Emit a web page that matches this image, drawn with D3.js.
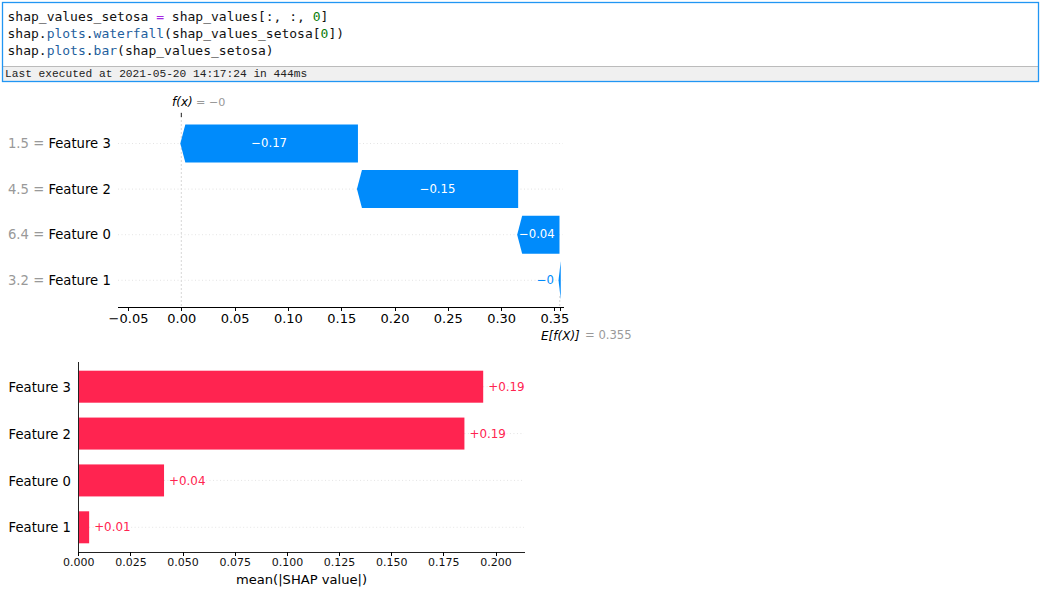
<!DOCTYPE html>
<html>
<head>
<meta charset="utf-8">
<script src="https://cdn.jsdelivr.net/npm/d3@7"></script>
<style>
  html, body { margin: 0; padding: 0; background: #fff; }
  svg { display: block; }
  text { font-family: "DejaVu Sans", sans-serif; }
  .code { font-family: "DejaVu Sans Mono", monospace; font-size: 13px; }
  .footer { font-family: "Liberation Mono", monospace; font-size: 11.2px; }
  .math { font-style: italic; }
  .tick line, .domain { shape-rendering: crispEdges; }
</style>
</head>
<body>
<svg id="chart" width="1040" height="606"></svg>
<script>
const codeLines = [
  [["shap_values_setosa ", "#111"], ["=", "#a626e4"], [" shap_values[:, :, ", "#111"], ["0", "#0a7d0a"], ["]", "#111"]],
  [["shap.", "#111"], ["plots", "#1f5f9e"], [".", "#111"], ["waterfall", "#1f5f9e"], ["(shap_values_setosa[", "#111"], ["0", "#0a7d0a"], ["])", "#111"]],
  [["shap.", "#111"], ["plots", "#1f5f9e"], [".", "#111"], ["bar", "#1f5f9e"], ["(shap_values_setosa)", "#111"]],
];
const footerText = "Last executed at 2021-05-20 14:17:24 in 444ms";

const features = ["Feature 3", "Feature 2", "Feature 0", "Feature 1"];
const featureValues = ["1.5", "4.5", "6.4", "3.2"];
const waterfallLeft = [0, 0.1657, 0.316, 0.3548];
const waterfallRight = [0.1657, 0.316, 0.3548, 0.355];
const waterfallLabels = ["\u22120.17", "\u22120.15", "\u22120.04", "\u22120"];
const waterfallTicks = [-0.05, 0, 0.05, 0.1, 0.15, 0.2, 0.25, 0.3, 0.35];
const fxValue = 0;
const baseValue = 0.355;

const meanValues = [0.1941, 0.1851, 0.0411, 0.0052];
const meanLabels = ["+0.19", "+0.19", "+0.04", "+0.01"];
const meanTicks = [0, 0.025, 0.05, 0.075, 0.1, 0.125, 0.15, 0.175, 0.2];

const blue = "#008bfb";
const red = "#ff2450";
const grey = "#999";

const svg = d3.select("#chart");

// notebook cell
const cell = svg.append("g");
cell.append("rect").attr("x", 2.5).attr("y", 2.5).attr("width", 1036).attr("height", 79)
  .attr("fill", "#fff");
cell.append("rect").attr("x", 3).attr("y", 67).attr("width", 1035).attr("height", 14)
  .attr("fill", "#f0f0f0");
cell.append("line").attr("x1", 3).attr("x2", 1038).attr("y1", 66.5).attr("y2", 66.5)
  .attr("stroke", "#bbb");
cell.append("rect").attr("x", 2.5).attr("y", 2.5).attr("width", 1036).attr("height", 79)
  .attr("fill", "none").attr("stroke", "#2196f3").attr("stroke-width", 1.3);
cell.append("g").selectAll("text").data(codeLines).join("text")
  .attr("class", "code")
  .attr("x", 7.5)
  .attr("y", (d, i) => 21 + i * 17)
  .style("white-space", "pre")
  .selectAll("tspan").data((d) => d).join("tspan")
  .attr("fill", (d) => d[1])
  .text((d) => d[0]);
cell.append("text").attr("class", "footer").attr("x", 5).attr("y", 77)
  .attr("fill", "#222").text(footerText);

// waterfall
const wfX = d3.scaleLinear().domain([-0.0594, 0.359]).range([118, 564]);
const wfY = d3.scalePoint().domain(features).range([143.5, 280.3]);
const wfBar = 38;
const wfHead = 5;
const wf = svg.append("g");

wf.append("line").attr("x1", wfX(fxValue)).attr("x2", wfX(fxValue))
  .attr("y1", 112).attr("y2", 306)
  .attr("stroke", "#ccc").attr("stroke-width", 0.8).attr("stroke-dasharray", "2,2");
wf.append("line").attr("x1", wfX(fxValue)).attr("x2", wfX(fxValue))
  .attr("y1", 113).attr("y2", 117).attr("stroke", "#222");
wf.append("line").attr("x1", wfX(baseValue)).attr("x2", wfX(baseValue))
  .attr("y1", 296).attr("y2", 306)
  .attr("stroke", "#ccc").attr("stroke-width", 0.8).attr("stroke-dasharray", "2,2");

wf.append("g").selectAll("line").data(features).join("line")
  .attr("x1", 118).attr("x2", 563)
  .attr("y1", (d) => wfY(d)).attr("y2", (d) => wfY(d))
  .attr("stroke", "#ddd").attr("stroke-width", 0.8).attr("stroke-dasharray", "1,2.5");

wf.append("g").selectAll("path").data(features).join("path")
  .attr("fill", blue)
  .attr("d", (d, i) => {
    const x0 = wfX(waterfallLeft[i]);
    const x1 = wfX(waterfallRight[i]);
    const y = wfY(d);
    const head = Math.min(wfHead, x1 - x0 + 2);
    return d3.line()([
      [x0 - 1, y],
      [x0 - 1 + head, y - wfBar / 2],
      [x0 - 1 + head > x1 ? x0 - 1 + head : x1, y - wfBar / 2],
      [x0 - 1 + head > x1 ? x0 - 1 + head : x1, y + wfBar / 2],
      [x0 - 1 + head, y + wfBar / 2],
    ]) + "Z";
  });

wf.append("g").selectAll("text").data(features).join("text")
  .attr("font-size", 11.7)
  .attr("dy", "0.35em")
  .attr("y", (d) => wfY(d) - 0.5)
  .attr("x", (d, i) => i < 3 ? wfX((waterfallLeft[i] + waterfallRight[i]) / 2) - (i == 2 ? 2 : 0.5) : wfX(waterfallLeft[i]) - 5.5)
  .attr("text-anchor", (d, i) => i < 3 ? "middle" : "end")
  .attr("fill", (d, i) => i < 3 ? "#fff" : blue)
  .text((d, i) => waterfallLabels[i]);

const wfLabel = wf.append("g").selectAll("text").data(features).join("text")
  .attr("font-size", 13.2)
  .attr("x", 110.8)
  .attr("y", (d) => wfY(d))
  .attr("dy", "0.35em")
  .attr("text-anchor", "end");
wfLabel.append("tspan").attr("fill", grey).text((d, i) => featureValues[i] + " = ");
wfLabel.append("tspan").attr("fill", "#000").text((d) => d);

const wfAxis = wf.append("g").attr("transform", "translate(0,306.5)")
  .call(d3.axisBottom(wfX).tickValues(waterfallTicks.concat([baseValue])).tickSize(4).tickPadding(3)
    .tickFormat((d) => waterfallTicks.includes(d) ? d3.format(".2f")(d).replace("-", "\u2212") : ""));
wfAxis.select(".domain").attr("stroke", "#000").attr("d", "M118,0.5H564");
wfAxis.selectAll("text").attr("font-size", 13).attr("font-family", "DejaVu Sans").attr("fill", "#000");

wf.append("text").attr("x", 172).attr("y", 106).attr("font-size", 12).attr("class", "math")
  .attr("fill", "#000").text("f(x)");
wf.append("text").attr("x", 196).attr("y", 106).attr("font-size", 11.2).attr("fill", grey)
  .text("= \u22120");
wf.append("text").attr("x", 541).attr("y", 340).attr("font-size", 12).attr("class", "math")
  .attr("fill", "#000").text("E[f(X)]");
wf.append("text").attr("x", 585).attr("y", 339).attr("font-size", 11.6).attr("fill", grey)
  .text("= 0.355");

// mean bar
const barX = d3.scaleLinear().domain([0, 0.2139]).range([78.3, 524.5]);
const barY = d3.scalePoint().domain(features).range([386.7, 527.3]);
const barH = 32;
const bar = svg.append("g");

bar.append("g").selectAll("line").data(features).join("line")
  .attr("x1", (d, i) => barX(meanValues[i])).attr("x2", 524)
  .attr("y1", (d) => barY(d)).attr("y2", (d) => barY(d))
  .attr("stroke", "#ddd").attr("stroke-width", 0.8).attr("stroke-dasharray", "1,2.5");

bar.append("g").selectAll("rect").data(features).join("rect")
  .attr("fill", red)
  .attr("x", barX(0))
  .attr("y", (d) => barY(d) - barH / 2)
  .attr("width", (d, i) => barX(meanValues[i]) - barX(0))
  .attr("height", barH);

bar.append("g").selectAll("text").data(features).join("text")
  .attr("font-size", 11.9)
  .attr("x", (d, i) => barX(meanValues[i]) + 5)
  .attr("y", (d) => barY(d))
  .attr("dy", "0.35em")
  .attr("fill", red)
  .attr("stroke", "#fff").attr("stroke-width", 3).attr("paint-order", "stroke")
  .text((d, i) => meanLabels[i]);

bar.append("g").selectAll("text").data(features).join("text")
  .attr("font-size", 13.2)
  .attr("x", 71)
  .attr("y", (d) => barY(d) + 0.5)
  .attr("dy", "0.35em")
  .attr("text-anchor", "end")
  .attr("fill", "#000")
  .text((d) => d);

const barAxis = bar.append("g").attr("transform", "translate(0,552)")
  .call(d3.axisBottom(barX).tickValues(meanTicks).tickSize(3.5).tickPadding(3)
    .tickFormat(d3.format(".3f")));
barAxis.select(".domain").attr("stroke", "#222").attr("d", "M78.3,0.5H524.5");
barAxis.selectAll("text").attr("font-size", 11).attr("font-family", "DejaVu Sans").attr("fill", "#111");

bar.append("line").attr("x1", 78.5).attr("x2", 78.5).attr("y1", 362).attr("y2", 552)
  .attr("stroke", "#222").style("shape-rendering", "crispEdges");

bar.append("text").attr("x", 301.5).attr("y", 584).attr("text-anchor", "middle")
  .attr("font-size", 13.1).attr("fill", "#000").text("mean(|SHAP value|)");
</script>
</body>
</html>
